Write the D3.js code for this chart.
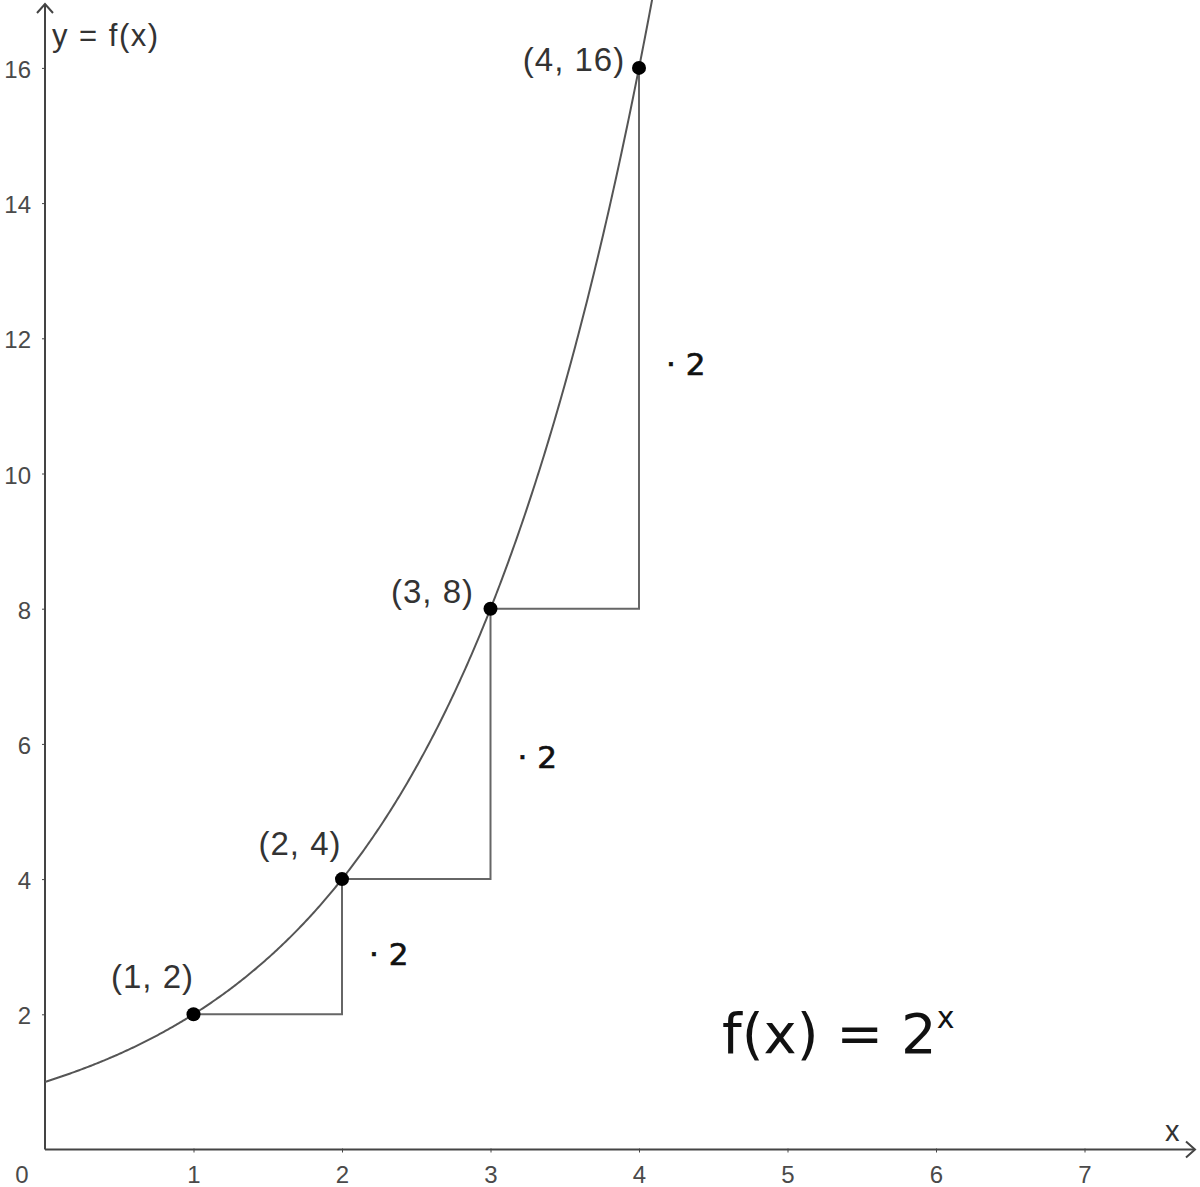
<!DOCTYPE html>
<html>
<head>
<meta charset="utf-8">
<script src="https://cdn.jsdelivr.net/npm/d3@7"></script>
<style>
  body { margin: 0; background: #fff; }
  svg { display: block; font-family: "Liberation Sans", Arial, sans-serif; }
  .tick text { fill: #4a4a4a; font-size: 24px; }
</style>
</head>
<body>
<div id="chart"></div>
<script>
// data
var pointX = [1, 2, 3, 4];
var pointY = [2, 4, 8, 16];
var pointLabels = ["(1, 2)", "(2, 4)", "(3, 8)", "(4, 16)"];
var xTicks = [1, 2, 3, 4, 5, 6, 7];
var yTicks = [2, 4, 6, 8, 10, 12, 14, 16];
var factorLabels = ["· 2", "· 2", "· 2"];

var width = 1200, height = 1187;
var x = d3.scaleLinear().domain([0, 1]).range([45, 193.5]);
var y = d3.scaleLinear().domain([0, 2]).range([1149.5, 1014.3]);

var svg = d3.select("#chart").append("svg")
  .attr("width", width)
  .attr("height", height);

// axes
var xAxis = d3.axisBottom(x).tickValues(xTicks).tickSize(4).tickPadding(8).tickFormat(d3.format("d"));
var yAxis = d3.axisLeft(y).tickValues(yTicks).tickSize(4).tickPadding(8).tickFormat(d3.format("d"));

var gx = svg.append("g")
  .attr("transform", "translate(0," + y(0) + ")")
  .call(xAxis);
gx.select(".domain").remove();
gx.selectAll(".tick line").attr("stroke", "#444").attr("y1", -1).attr("y2", 3);
gx.selectAll(".tick text").attr("y", 33).attr("dy", null).attr("font-family", "Liberation Sans, Arial, sans-serif");

var gy = svg.append("g")
  .attr("transform", "translate(" + x(0) + ",0)")
  .call(yAxis);
gy.select(".domain").remove();
gy.selectAll(".tick line").attr("stroke", "#444").attr("x1", 1).attr("x2", -3);
gy.selectAll(".tick text").attr("font-family", "Liberation Sans, Arial, sans-serif").attr("x", -14).attr("dy", "0.4em");

// axis lines with arrows
svg.append("line")
  .attr("x1", x(0)).attr("y1", y(0))
  .attr("x2", 1195).attr("y2", y(0))
  .attr("stroke", "#444").attr("stroke-width", 2);
svg.append("path")
  .attr("d", "M1186," + (y(0) - 8) + "L1195," + y(0) + "L1186," + (y(0) + 8))
  .attr("fill", "none").attr("stroke", "#444").attr("stroke-width", 2);
svg.append("line")
  .attr("x1", x(0)).attr("y1", y(0))
  .attr("x2", x(0)).attr("y2", 4)
  .attr("stroke", "#444").attr("stroke-width", 2);
svg.append("path")
  .attr("d", "M" + (x(0) - 8) + ",13L" + x(0) + ",4L" + (x(0) + 8) + ",13")
  .attr("fill", "none").attr("stroke", "#444").attr("stroke-width", 2);

svg.append("text")
  .attr("x", 22).attr("y", 1183)
  .attr("text-anchor", "middle")
  .attr("fill", "#4a4a4a").attr("font-size", 24)
  .text("0");
svg.append("text")
  .attr("x", 52).attr("y", 46)
  .attr("fill", "#333").attr("font-size", 31)
  .attr("letter-spacing", 1.5)
  .text("y = f(x)");
svg.append("text")
  .attr("x", 1165).attr("y", 1141)
  .attr("fill", "#333").attr("font-size", 29)
  .text("x");

// step lines
var steps = "";
for (var i = 0; i < pointX.length - 1; i++) {
  steps += "M" + x(pointX[i]) + "," + y(pointY[i]) +
    "L" + x(pointX[i + 1]) + "," + y(pointY[i]) +
    "L" + x(pointX[i + 1]) + "," + y(pointY[i + 1]);
}
svg.append("path")
  .attr("d", steps)
  .attr("fill", "none")
  .attr("stroke", "#666")
  .attr("stroke-width", 2);

// curve f(x) = 2^x
var xs = d3.range(0, 4.2, 0.01);
var line = d3.line()
  .x(function (d) { return x(d); })
  .y(function (d) { return y(Math.pow(2, d)); });
svg.append("defs").append("clipPath").attr("id", "clip")
  .append("rect").attr("x", 0).attr("y", 0).attr("width", width).attr("height", height);
svg.append("path")
  .datum(xs)
  .attr("clip-path", "url(#clip)")
  .attr("d", line)
  .attr("fill", "none")
  .attr("stroke", "#555")
  .attr("stroke-width", 2);

// points
svg.selectAll(".pt")
  .data(pointX)
  .enter().append("circle")
  .attr("class", "pt")
  .attr("cx", function (d) { return x(d); })
  .attr("cy", function (d, i) { return y(pointY[i]); })
  .attr("r", 7)
  .attr("fill", "#000");

// point labels
var labelDx = [-41, -42, -58, -65];
var labelDy = [-26, -24, -6, 3];
svg.selectAll(".plabel")
  .data(pointLabels)
  .enter().append("text")
  .attr("class", "plabel")
  .attr("x", function (d, i) { return x(pointX[i]) + labelDx[i]; })
  .attr("y", function (d, i) { return y(pointY[i]) + labelDy[i]; })
  .attr("text-anchor", "middle")
  .attr("fill", "#333")
  .attr("font-size", 33)
  .attr("letter-spacing", 1)
  .text(function (d) { return d; });

// factor labels next to vertical steps
svg.selectAll(".flabel")
  .data(factorLabels)
  .enter().append("text")
  .attr("class", "flabel")
  .attr("x", function (d, i) { return x(pointX[i + 1]) + 27; })
  .attr("y", function (d, i) { return y(pointY[i] * 1.455) + 12; })
  .attr("fill", "#111")
  .attr("stroke", "#111")
  .attr("stroke-width", 0.7)
  .attr("font-family", "DejaVu Sans, sans-serif")
  .attr("font-size", 31)
  .text(function (d) { return d; });

// formula
var f = svg.append("text")
  .attr("x", 722).attr("y", 1053)
  .attr("fill", "#111")
  .attr("font-family", "DejaVu Sans, sans-serif")
  .attr("font-size", 56);
f.append("tspan").text("f(x) = 2");
f.append("tspan").attr("dy", -25).attr("font-size", 30).text("x");
</script>
</body>
</html>
